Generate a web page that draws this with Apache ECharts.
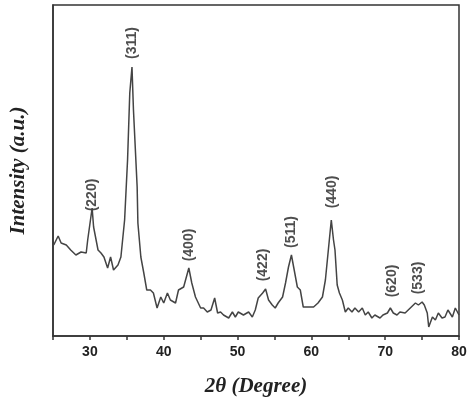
<!DOCTYPE html>
<html>
<head>
<meta charset="utf-8">
<script src="https://cdn.jsdelivr.net/npm/echarts@6/dist/echarts.min.js"></script>
<style>
  html, body { margin: 0; padding: 0; background: #fff; }
</style>
</head>
<body>
<div id="main" style="width:474px;height:408px;"></div>
<script type="text/javascript">
// 2theta (degree) and intensity (a.u.)
var twoTheta = [25.1, 25.7, 26.1, 26.8, 27.4, 28.1, 28.8, 29.5, 29.7, 30.3, 30.5, 31.1, 31.5, 31.9, 32.4, 32.8, 33.2, 33.8, 34.2, 34.7,
  35.1, 35.4, 35.7, 35.9, 36.4, 36.5, 36.9, 37.3, 37.7, 38.2, 38.6, 39.1, 39.6, 40.0, 40.5, 40.9, 41.6, 42.0, 42.7, 43.4,
  43.8, 44.3, 45.0, 45.4, 45.9, 46.4, 46.9, 47.3, 47.7, 48.1, 48.8, 49.3, 49.7, 50.1, 50.8, 51.5, 52.0, 52.4, 52.8, 53.4,
  53.8, 54.2, 54.7, 55.1, 55.5, 56.1, 56.5, 56.9, 57.3, 57.6, 58.1, 58.5, 58.9, 59.5, 59.9, 60.3, 60.9, 61.5, 61.9, 62.3,
  62.7, 63.0, 63.2, 63.5, 63.8, 64.2, 64.6, 65.0, 65.5, 65.9, 66.4, 66.9, 67.3, 67.7, 68.2, 68.6, 69.3, 69.7, 70.3, 70.7,
  71.1, 71.6, 72.0, 72.7, 73.4, 74.1, 74.5, 75.0, 75.3, 75.7, 75.9, 76.4, 76.8, 77.2, 77.7, 78.1, 78.5, 79.1, 79.5, 80.0];
var intensity = [91, 100, 93, 91, 86, 81, 84, 83, 96, 128, 109, 86, 83, 79, 68, 79, 66, 71, 79, 116,
  176, 243, 269, 226, 149, 113, 79, 63, 46, 46, 43, 28, 39, 33, 43, 36, 33, 46, 49, 68,
  53, 39, 28, 28, 24, 26, 38, 23, 24, 21, 18, 24, 19, 24, 21, 24, 19, 26, 38, 43,
  47, 36, 31, 28, 33, 39, 53, 69, 81, 69, 49, 46, 29, 29, 29, 29, 33, 39, 56, 86,
  116, 96, 86, 51, 43, 36, 24, 28, 24, 28, 24, 28, 21, 24, 18, 21, 18, 21, 23, 28,
  23, 21, 24, 23, 28, 33, 31, 34, 31, 23, 9, 19, 16, 23, 18, 19, 26, 19, 28, 21];

// peak indices (hkl) and where their labels sit
var peakNames = ['(220)', '(311)', '(400)', '(422)', '(511)', '(440)', '(620)', '(533)'];
var peakPos = [30.3, 35.7, 43.5, 53.5, 57.3, 62.8, 71.0, 74.5];
var labelAt = [141, 293, 91, 71, 104, 144, 55, 58];

var xTickLabels = [30, 40, 50, 60, 70, 80];

var myChart = echarts.init(document.getElementById('main'));

var lineData = twoTheta.map(function (t, i) { return [t, intensity[i]]; });
var labelData = peakNames.map(function (n, i) { return { name: n, value: [peakPos[i], labelAt[i]] }; });

var option = {
    animation: false,
    backgroundColor: '#fff',
    grid: {
        left: 52, right: 15, top: 5, bottom: 72,
        show: true, borderColor: '#333', borderWidth: 1.5
    },
    xAxis: {
        type: 'value',
        min: 25, max: 80, interval: 5,
        name: '2\u03B8 (Degree)',
        nameLocation: 'middle',
        nameGap: 40,
        nameTextStyle: {
            fontFamily: 'Liberation Serif', fontStyle: 'italic', fontWeight: 'bold',
            fontSize: 21, color: '#222'
        },
        axisLine: { show: true, lineStyle: { color: '#333', width: 1.5 } },
        axisTick: { show: true, inside: false, length: 4, lineStyle: { color: '#333', width: 1.5 } },
        axisLabel: {
            margin: 9,
            fontFamily: 'Liberation Sans', fontWeight: 'bold', fontSize: 14, color: '#222',
            formatter: function (v) { return xTickLabels.indexOf(v) >= 0 ? String(v) : ''; }
        },
        splitLine: { show: false }
    },
    yAxis: {
        type: 'value',
        min: 0, max: 331,
        name: 'Intensity (a.u.)',
        nameLocation: 'middle',
        nameGap: 24,
        nameTextStyle: {
            fontFamily: 'Liberation Serif', fontStyle: 'italic', fontWeight: 'bold',
            fontSize: 21, color: '#222'
        },
        axisLine: { show: true, lineStyle: { color: '#333', width: 1.5 } },
        axisTick: { show: false },
        axisLabel: { show: false },
        splitLine: { show: false }
    },
    series: [
        {
            type: 'line',
            data: lineData,
            showSymbol: false,
            lineStyle: { color: '#444', width: 1.5 }
        },
        {
            type: 'scatter',
            data: labelData,
            symbolSize: 0,
            label: {
                show: true,
                position: 'inside',
                rotate: 90,
                formatter: '{b}',
                fontFamily: 'Liberation Sans',
                fontWeight: 'bold',
                fontSize: 14,
                color: '#222'
            }
        }
    ]
};
myChart.setOption(option);
</script>
</body>
</html>
